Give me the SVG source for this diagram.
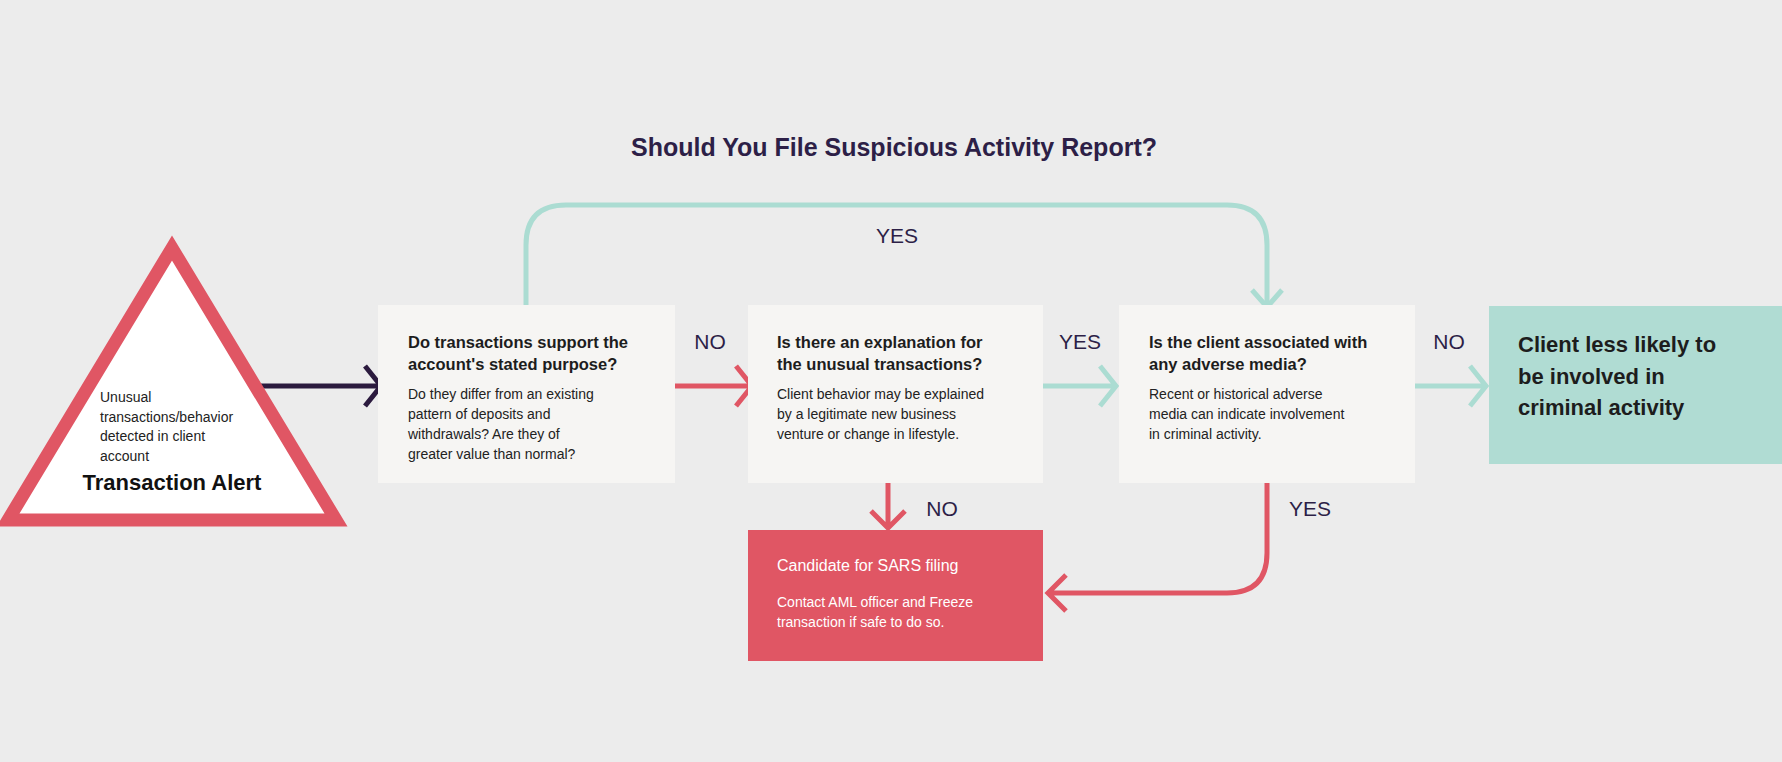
<svg xmlns="http://www.w3.org/2000/svg" width="1782" height="762" viewBox="0 0 1782 762">
<style>
text{font-family:"Liberation Sans",Arial,sans-serif}
.t{font-size:16.5px;font-weight:bold;fill:#1d1d1d}
.b{font-size:14px;fill:#222}
.lbl{font-size:21px;fill:#2d1f47}
.w{fill:#fff}
.box{fill:#f6f5f3}
.ln{fill:none;stroke-width:5}
.teal{stroke:#abdcd2}.red{stroke:#e05664}.dark{stroke:#2b1a3e}
</style>
<rect width="1782" height="762" fill="#ececec"/>
<text x="894" y="156" text-anchor="middle" style="font-size:25px;font-weight:bold;fill:#2d1f47">Should You File Suspicious Activity Report?</text>
<g id="connectors">
<path class="ln teal" d="M526 305 V245 Q526 205 566 205 H1227 Q1267 205 1267 245 V305"/>
<path class="ln teal" d="M1252 290 L1267 307 L1282 290"/>
<path class="ln dark" d="M261 386 H381 M365 366 L381 386 L365 406"/>
<path class="ln red" d="M675 386 H752 M736 366 L752 386 L736 406"/>
<path class="ln teal" d="M1043 386 H1116 M1100 366 L1116 386 L1100 406"/>
<path class="ln teal" d="M1415 386 H1486 M1470 366 L1486 386 L1470 406"/>
<path class="ln red" d="M888 483 V528 M871 511 L888 528 L905 511"/>
<path class="ln red" d="M1267 483 V553 Q1267 593 1227 593 H1048 M1066 575 L1048 593 L1066 611"/>
</g>
<text class="lbl" x="897" y="243" text-anchor="middle">YES</text>
<text class="lbl" x="710" y="349" text-anchor="middle">NO</text>
<text class="lbl" x="1080" y="349" text-anchor="middle">YES</text>
<text class="lbl" x="1449" y="349" text-anchor="middle">NO</text>
<text class="lbl" x="942" y="516" text-anchor="middle">NO</text>
<text class="lbl" x="1310" y="516" text-anchor="middle">YES</text>
<g id="alert">
<polygon points="172,248 8,520 336,520" fill="#fff" stroke="#e05664" stroke-width="13"/>
<text class="b" x="100" y="402">Unusual</text>
<text class="b" x="100" y="422">transactions/behavior</text>
<text class="b" x="100" y="441">detected in client</text>
<text class="b" x="100" y="461">account</text>
<text x="172" y="490" text-anchor="middle" style="font-size:22px;font-weight:bold;fill:#111">Transaction Alert</text>
</g>
<g id="q1">
<rect class="box" x="378" y="305" width="297" height="178"/>
<text class="t" x="408" y="348">Do transactions support the</text>
<text class="t" x="408" y="370">account's stated purpose?</text>
<text class="b" x="408" y="399">Do they differ from an existing</text>
<text class="b" x="408" y="419">pattern of deposits and</text>
<text class="b" x="408" y="439">withdrawals?  Are  they of</text>
<text class="b" x="408" y="459">greater value than normal?</text>
</g>
<g id="q2">
<rect class="box" x="748" y="305" width="295" height="178"/>
<text class="t" x="777" y="348">Is there an explanation for</text>
<text class="t" x="777" y="370">the unusual transactions?</text>
<text class="b" x="777" y="399">Client behavior may be explained</text>
<text class="b" x="777" y="419">by a legitimate new business</text>
<text class="b" x="777" y="439">venture or change in lifestyle.</text>
</g>
<g id="q3">
<rect class="box" x="1119" y="305" width="296" height="178"/>
<text class="t" x="1149" y="348">Is the client associated with</text>
<text class="t" x="1149" y="370">any adverse media?</text>
<text class="b" x="1149" y="399">Recent or historical adverse</text>
<text class="b" x="1149" y="419">media can indicate involvement</text>
<text class="b" x="1149" y="439">in criminal activity.</text>
</g>
<g id="result">
<rect x="1489" y="306" width="293" height="158" fill="#b0dcd3"/>
<text x="1518" y="352" style="font-size:22px;font-weight:bold;fill:#1d1d1d">Client less likely to</text>
<text x="1518" y="384" style="font-size:22px;font-weight:bold;fill:#1d1d1d">be involved in</text>
<text x="1518" y="415" style="font-size:22px;font-weight:bold;fill:#1d1d1d">criminal activity</text>
</g>
<g id="sars">
<rect x="748" y="530" width="295" height="131" fill="#e05664"/>
<text class="w" x="777" y="571" style="font-size:16px">Candidate for SARS filing</text>
<text class="w" x="777" y="607" style="font-size:14px">Contact AML officer and Freeze</text>
<text class="w" x="777" y="627" style="font-size:14px">transaction if safe to do so.</text>
</g>
</svg>
